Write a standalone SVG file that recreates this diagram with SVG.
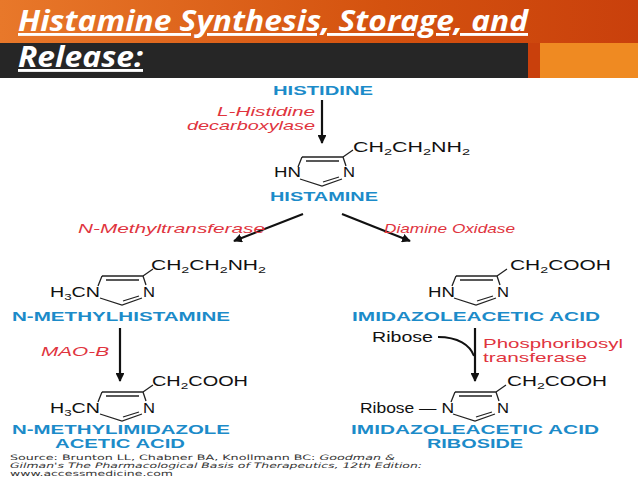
<svg xmlns="http://www.w3.org/2000/svg" width="638" height="478" viewBox="0 0 638 478">
<defs>
<linearGradient id="og" x1="0" y1="0" x2="1" y2="0"><stop offset="0" stop-color="#e8782a"/><stop offset="0.6" stop-color="#d4520f"/><stop offset="1" stop-color="#c9400c"/></linearGradient>
<marker id="ah" viewBox="0 0 10 10" refX="9" refY="5" markerWidth="4" markerHeight="4" orient="auto"><path d="M0,0L10,5L0,10z" fill="#111"/></marker>
<g id="ring" fill="none" stroke="#222" stroke-width="1.3">
<path d="M0,0L-4,10M-2,22L20,29L40,22M21,25L37,20M44,9L41,0M0,0L41,0M4,4L37,4M41,0L51,-7"/>
</g>
<style>
.nm{font-family:"Liberation Sans",Arial,sans-serif;font-weight:bold;font-size:12.5px;fill:#1c8bc9}
.en{font-family:"Liberation Sans",Arial,sans-serif;font-style:italic;font-size:13px;fill:#e0343e}
.ch{font-family:"Liberation Sans",Arial,sans-serif;font-size:14px;fill:#111}
.sb{font-size:9.5px}
.ti{font-family:"Open Sans","DejaVu Sans",sans-serif;font-style:italic;font-weight:bold;font-size:29px;fill:#fff;text-decoration:underline}
.src{font-family:"DejaVu Sans",sans-serif;font-size:7.4px;fill:#333}
</style>
</defs>
<rect width="638" height="478" fill="#fff"/>
<g id="header">
<rect x="0" y="0" width="638" height="43" fill="url(#og)"/>
<rect x="0" y="43" width="528" height="35" fill="#262626"/>
<rect x="528" y="43" width="12" height="35" fill="#c9400c"/>
<rect x="540" y="43" width="98" height="35" fill="#ef8a22"/>
<text class="ti" x="18" y="31" textLength="510" lengthAdjust="spacingAndGlyphs">Histamine Synthesis, Storage, and</text>
<text class="ti" x="18" y="67" textLength="125" lengthAdjust="spacingAndGlyphs">Release:</text>
</g>
<g id="connectors" stroke="#111" stroke-width="2.2" fill="none" marker-end="url(#ah)">
<line x1="322" y1="100" x2="322" y2="143"/>
<line x1="303" y1="214" x2="234" y2="241"/>
<line x1="342" y1="214" x2="410" y2="241"/>
<line x1="120" y1="328" x2="120" y2="381"/>
<line x1="475" y1="328" x2="475" y2="381"/>
<path d="M438,337C458,337 470,345 474,356" stroke-width="2" marker-end="none"/>
</g>
<g id="histidine"><text class="nm" x="273" y="95" textLength="100" lengthAdjust="spacingAndGlyphs">HISTIDINE</text></g>
<g id="enz1"><text class="en" x="217" y="116" textLength="98" lengthAdjust="spacingAndGlyphs">L-Histidine</text><text class="en" x="187" y="130" textLength="128" lengthAdjust="spacingAndGlyphs">decarboxylase</text></g>
<g id="histamine">
<use href="#ring" x="302" y="157"/>
<text class="ch" x="274" y="177" textLength="27" lengthAdjust="spacingAndGlyphs">HN</text><text class="ch" x="343" y="177" textLength="12" lengthAdjust="spacingAndGlyphs">N</text>
<text class="ch" x="353" y="152" textLength="117" lengthAdjust="spacingAndGlyphs">CH<tspan class="sb" dy="3">2</tspan><tspan dy="-3">CH</tspan><tspan class="sb" dy="3">2</tspan><tspan dy="-3">NH</tspan><tspan class="sb" dy="3">2</tspan></text>
<text class="nm" x="270" y="201" textLength="108" lengthAdjust="spacingAndGlyphs">HISTAMINE</text>
</g>
<g id="enz2"><text class="en" x="78" y="233" textLength="187" lengthAdjust="spacingAndGlyphs">N-Methyltransferase</text></g>
<g id="enz3"><text class="en" x="384" y="233" textLength="131" lengthAdjust="spacingAndGlyphs">Diamine Oxidase</text></g>
<g id="nmethylhistamine">
<use href="#ring" x="102" y="276"/>
<text class="ch" x="50" y="297" textLength="50" lengthAdjust="spacingAndGlyphs">H<tspan class="sb" dy="3">3</tspan><tspan dy="-3">CN</tspan></text><text class="ch" x="143" y="297" textLength="12" lengthAdjust="spacingAndGlyphs">N</text>
<text class="ch" x="151" y="270" textLength="115" lengthAdjust="spacingAndGlyphs">CH<tspan class="sb" dy="3">2</tspan><tspan dy="-3">CH</tspan><tspan class="sb" dy="3">2</tspan><tspan dy="-3">NH</tspan><tspan class="sb" dy="3">2</tspan></text>
<text class="nm" x="12" y="321" textLength="218" lengthAdjust="spacingAndGlyphs">N-METHYLHISTAMINE</text>
</g>
<g id="imidazoleacetic">
<use href="#ring" x="456" y="276"/>
<text class="ch" x="428" y="297" textLength="27" lengthAdjust="spacingAndGlyphs">HN</text><text class="ch" x="497" y="297" textLength="12" lengthAdjust="spacingAndGlyphs">N</text>
<text class="ch" x="510" y="270" textLength="101" lengthAdjust="spacingAndGlyphs">CH<tspan class="sb" dy="3">2</tspan><tspan dy="-3">COOH</tspan></text>
<text class="nm" x="352" y="321" textLength="248" lengthAdjust="spacingAndGlyphs">IMIDAZOLEACETIC ACID</text>
</g>
<g id="enz4"><text class="en" x="41" y="356" textLength="68" lengthAdjust="spacingAndGlyphs">MAO-B</text></g>
<g id="enz5">
<text class="ch" x="372" y="342" textLength="61" lengthAdjust="spacingAndGlyphs">Ribose</text>
<text class="en" x="483" y="348" style="font-style:normal" textLength="140" lengthAdjust="spacingAndGlyphs">Phosphoribosyl</text>
<text class="en" x="483" y="362" style="font-style:normal" textLength="104" lengthAdjust="spacingAndGlyphs">transferase</text>
</g>
<g id="nmethylimidazole">
<use href="#ring" x="102" y="392"/>
<text class="ch" x="50" y="413" textLength="50" lengthAdjust="spacingAndGlyphs">H<tspan class="sb" dy="3">3</tspan><tspan dy="-3">CN</tspan></text><text class="ch" x="143" y="413" textLength="12" lengthAdjust="spacingAndGlyphs">N</text>
<text class="ch" x="152" y="386" textLength="96" lengthAdjust="spacingAndGlyphs">CH<tspan class="sb" dy="3">2</tspan><tspan dy="-3">COOH</tspan></text>
<text class="nm" x="12" y="434" textLength="218" lengthAdjust="spacingAndGlyphs">N-METHYLIMIDAZOLE</text>
<text class="nm" x="55" y="448" textLength="130" lengthAdjust="spacingAndGlyphs">ACETIC ACID</text>
</g>
<g id="riboside">
<use href="#ring" x="455" y="392"/>
<text class="ch" x="360" y="413" textLength="94" lengthAdjust="spacingAndGlyphs">Ribose — N</text><text class="ch" x="497" y="413" textLength="12" lengthAdjust="spacingAndGlyphs">N</text>
<text class="ch" x="507" y="386" textLength="100" lengthAdjust="spacingAndGlyphs">CH<tspan class="sb" dy="3">2</tspan><tspan dy="-3">COOH</tspan></text>
<text class="nm" x="351" y="434" textLength="248" lengthAdjust="spacingAndGlyphs">IMIDAZOLEACETIC ACID</text>
<text class="nm" x="427" y="448" textLength="96" lengthAdjust="spacingAndGlyphs">RIBOSIDE</text>
</g>
<g id="source">
<text class="src" x="10" y="460" textLength="385" lengthAdjust="spacingAndGlyphs">Source: Brunton LL, Chabner BA, Knollmann BC: <tspan font-style="italic">Goodman &amp;</tspan></text>
<text class="src" x="10" y="468" font-style="italic" textLength="412" lengthAdjust="spacingAndGlyphs">Gilman's The Pharmacological Basis of Therapeutics, 12th Edition:</text>
<text class="src" x="10" y="476" textLength="163" lengthAdjust="spacingAndGlyphs">www.accessmedicine.com</text>
</g>
</svg>
